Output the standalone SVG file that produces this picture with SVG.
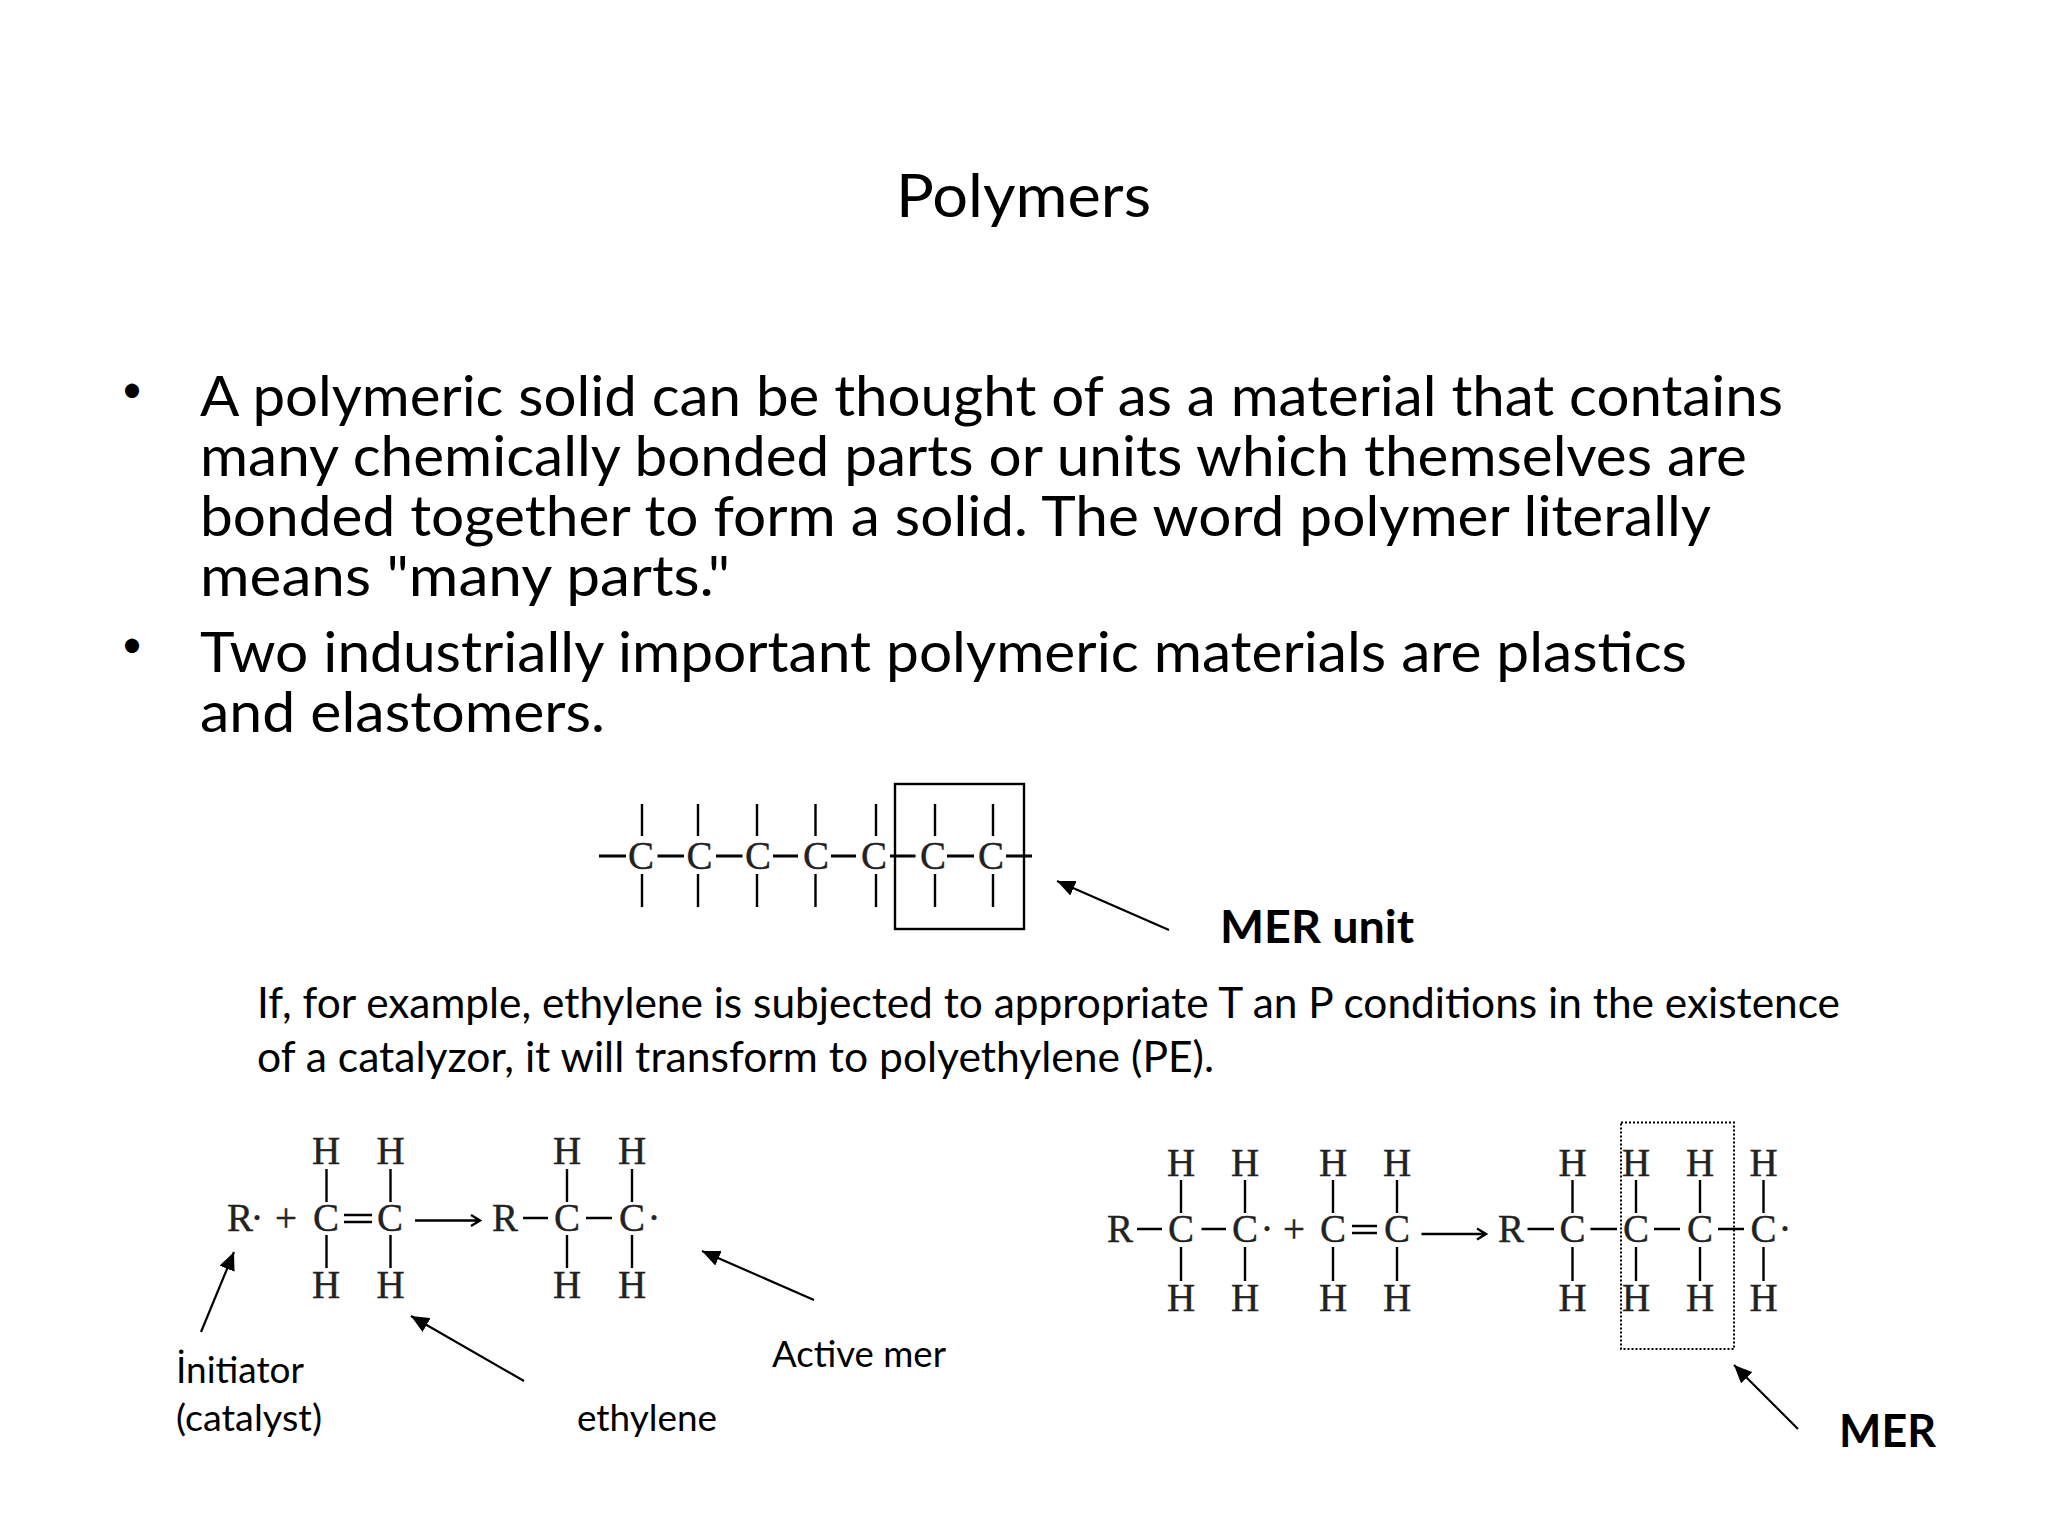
<svg xmlns="http://www.w3.org/2000/svg" width="2048" height="1536" viewBox="0 0 2048 1536">
<style>
.t{font-family:"Lato","Liberation Sans",sans-serif;fill:#000}
.h{font-size:60px}.b{font-size:56px}.bu{font-size:38px}.m{font-size:42px}.s{font-size:37px}.mb{font-size:46px;font-weight:700}
.c{font-family:"Liberation Serif",serif;font-size:39px;text-anchor:middle;fill:#222;stroke:#222;stroke-width:.4}
.l{stroke:#000;stroke-width:2.4;fill:none}
.k{stroke:#000;stroke-width:3.2;fill:none}
.a{stroke:#000;stroke-width:2.2;fill:none;marker-end:url(#ah)}
</style>
<defs>
<marker id="ah" markerUnits="userSpaceOnUse" markerWidth="20" markerHeight="16" refX="18" refY="8" orient="auto"><path d="M0 0L18 8L0 16Z" fill="#000"/></marker>
</defs>
<rect width="2048" height="1536" fill="#fff"/>
<g id="title"><text class="t h" x="896" y="217" textLength="255" lengthAdjust="spacingAndGlyphs">Polymers</text></g>
<g id="bullets">
<text class="t bu" x="121" y="402">•</text>
<text class="t b" x="200" y="416" textLength="1583" lengthAdjust="spacingAndGlyphs">A polymeric solid can be thought of as a material that contains</text>
<text class="t b" x="200" y="476" textLength="1547" lengthAdjust="spacingAndGlyphs">many chemically bonded parts or units which themselves are</text>
<text class="t b" x="200" y="536" textLength="1511" lengthAdjust="spacingAndGlyphs">bonded together to form a solid. The word polymer literally</text>
<text class="t b" x="200" y="596" textLength="530" lengthAdjust="spacingAndGlyphs">means "many parts."</text>
<text class="t bu" x="121" y="657">•</text>
<text class="t b" x="200" y="672" textLength="1487" lengthAdjust="spacingAndGlyphs">Two industrially important polymeric materials are plastics</text>
<text class="t b" x="200" y="732" textLength="405" lengthAdjust="spacingAndGlyphs">and elastomers.</text>
</g>
<g id="para">
<text class="t m" x="257" y="1018" textLength="1583" lengthAdjust="spacingAndGlyphs">If, for example, ethylene is subjected to appropriate T an P conditions in the existence</text>
<text class="t m" x="257" y="1072" textLength="957" lengthAdjust="spacingAndGlyphs">of a catalyzor, it will transform to polyethylene (PE).</text>
</g>
<g id="chain">
<path class="l" d="M642 804V836M642 874V907M698 804V836M698 874V907M757 804V836M757 874V907M815.500 804V836M815.500 874V907M876 804V836M876 874V907M935 804V836M935 874V907M993 804V836M993 874V907"/>
<path class="k" d="M599 856H626M657.500 856H684M716 856H742.500M773 856H798M831 856H856M890 856H915.500M947 856H974M1006 856H1032"/>
<g class="c"><text x="641" y="869">C</text><text x="699.500" y="869">C</text><text x="758" y="869">C</text><text x="816" y="869">C</text><text x="874" y="869">C</text><text x="933" y="869">C</text><text x="991" y="869">C</text></g>
<rect class="l" x="895" y="784" width="129" height="145"/>
</g>
<g id="mer-unit-label"><text class="t mb" x="1220" y="943" textLength="194" lengthAdjust="spacingAndGlyphs">MER unit</text></g>
<g id="reaction-1">
<g class="c">
<text x="326" y="1164">H</text><text x="390.500" y="1164">H</text><text x="567" y="1164">H</text><text x="632" y="1164">H</text>
<text x="326" y="1298">H</text><text x="390.500" y="1298">H</text><text x="567" y="1298">H</text><text x="632" y="1298">H</text>
<text x="240" y="1231">R</text><text x="257" y="1231">·</text><text x="286" y="1231">+</text><text x="326" y="1231">C</text><text x="390" y="1231">C</text>
<text x="505" y="1231">R</text><text x="567" y="1231">C</text><text x="632" y="1231">C</text><text x="654" y="1231">·</text>
</g>
<path class="l" d="M326.500 1169V1202M326.500 1235V1268M390.500 1169V1202M390.500 1235V1268M567 1169V1202M567 1235V1268M632 1169V1202M632 1235V1268M523 1218H548M586 1218H612M344 1215H372M344 1222H372M415 1220.500H479M471 1215L480 1220.500L471 1226"/>
</g>
<g id="reaction-2">
<g class="c">
<text x="1181" y="1176">H</text><text x="1245" y="1176">H</text><text x="1333" y="1176">H</text><text x="1397" y="1176">H</text><text x="1572.500" y="1176">H</text><text x="1636" y="1176">H</text><text x="1700" y="1176">H</text><text x="1763.500" y="1176">H</text>
<text x="1181" y="1311">H</text><text x="1245" y="1311">H</text><text x="1333" y="1311">H</text><text x="1397" y="1311">H</text><text x="1572.500" y="1311">H</text><text x="1636" y="1311">H</text><text x="1700" y="1311">H</text><text x="1763.500" y="1311">H</text>
<text x="1120" y="1242">R</text><text x="1181" y="1242">C</text><text x="1245" y="1242">C</text><text x="1267" y="1242">·</text><text x="1294" y="1242">+</text><text x="1333" y="1242">C</text><text x="1397" y="1242">C</text>
<text x="1511" y="1242">R</text><text x="1572.500" y="1242">C</text><text x="1636" y="1242">C</text><text x="1700" y="1242">C</text><text x="1763.500" y="1242">C</text><text x="1785" y="1242">·</text>
</g>
<path class="l" d="M1181 1180V1213M1181 1247V1281M1245 1180V1213M1245 1247V1281M1333 1180V1213M1333 1247V1281M1397 1180V1213M1397 1247V1281M1572.500 1180V1213M1572.500 1247V1281M1636 1180V1213M1636 1247V1281M1700 1180V1213M1700 1247V1281M1763.500 1180V1213M1763.500 1247V1281M1137 1229H1162M1201.500 1229H1226M1527.500 1229H1554M1590.500 1229H1617M1654 1229H1680M1718 1229H1744M1352 1226H1377M1352 1233H1377M1421.500 1234H1485M1477 1228.500L1486 1234L1477 1239.500"/>
<rect x="1621" y="1122.500" width="113" height="226.500" fill="none" stroke="#000" stroke-width="2" stroke-dasharray="2 2"/>
</g>
<g id="connectors">
<line class="a" x1="1169" y1="930" x2="1057" y2="881"/>
<line class="a" x1="201" y1="1332" x2="234" y2="1252"/>
<line class="a" x1="524" y1="1381" x2="411" y2="1316"/>
<line class="a" x1="814" y1="1300" x2="702" y2="1251"/>
<line class="a" x1="1798" y1="1429" x2="1734" y2="1365"/>
</g>
<g id="labels">
<text class="t s" x="176" y="1383" textLength="128" lengthAdjust="spacingAndGlyphs">İnitiator</text>
<text class="t s" x="176" y="1431" textLength="146" lengthAdjust="spacingAndGlyphs">(catalyst)</text>
<text class="t s" x="577" y="1431" textLength="140" lengthAdjust="spacingAndGlyphs">ethylene</text>
<text class="t s" x="772" y="1367" textLength="174" lengthAdjust="spacingAndGlyphs">Active mer</text>
<text class="t mb" x="1839" y="1447" textLength="97" lengthAdjust="spacingAndGlyphs">MER</text>
</g>
</svg>
